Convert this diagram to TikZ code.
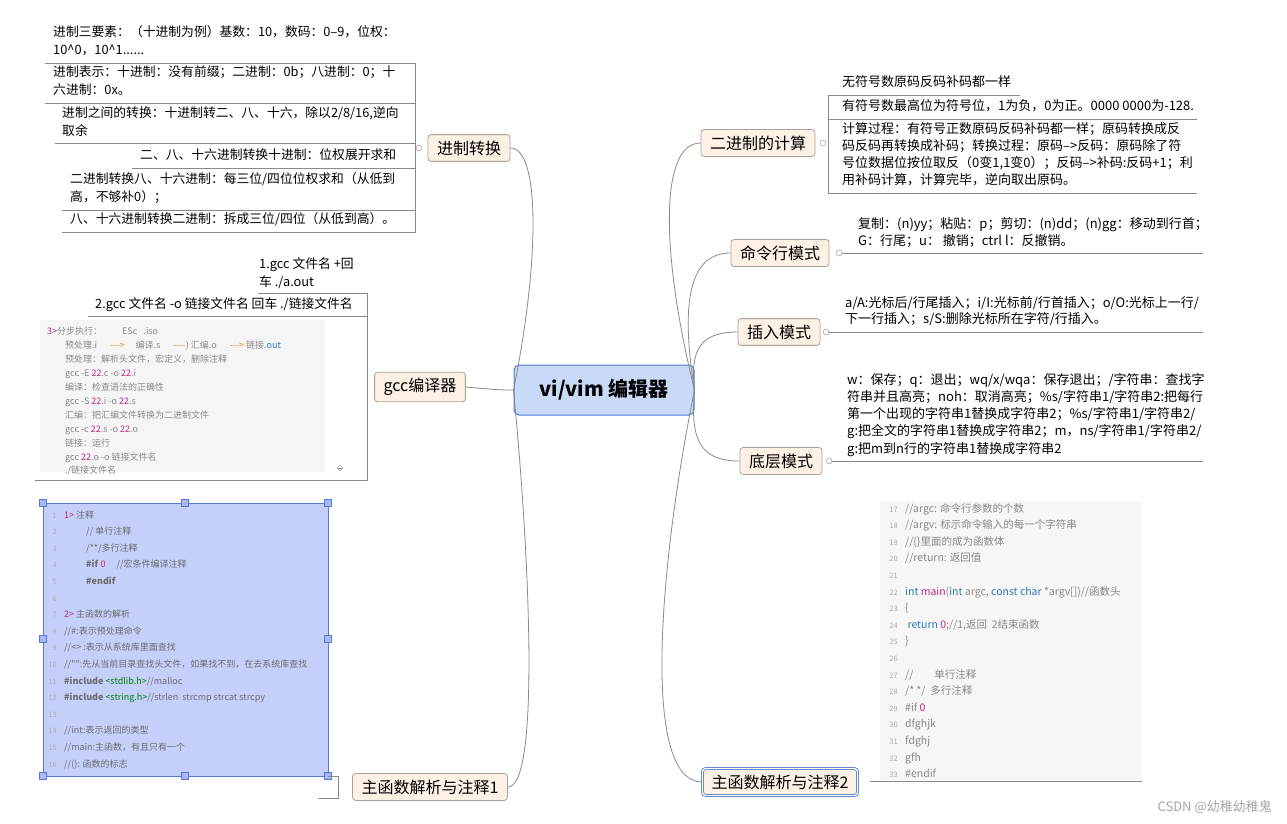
\documentclass[tikz,border=0pt]{standalone}
\usepackage{fontspec}
\setmainfont{Noto Sans CJK SC}
\newfontfamily\codefont{Noto Sans CJK SC}
\definecolor{br}{HTML}{FDF1E6}
\definecolor{brd}{HTML}{A8A29C}
\definecolor{cfill}{HTML}{C9DAF8}
\definecolor{cbd}{HTML}{4F7BD0}
\definecolor{ln}{HTML}{8A8A8A}
\definecolor{cg}{HTML}{888888}
\definecolor{kw}{HTML}{C0267A}
\definecolor{bl}{HTML}{2A7AB8}
\begin{document}
\begin{tikzpicture}[x=1pt,y=-1pt,
  branch/.style={draw=brd,fill=br,rounded corners=3pt,font=\fontsize{16}{18}\selectfont,inner xsep=9pt,inner ysep=6pt,line width=0.8pt},
  leaf/.style={anchor=north west,align=left,inner sep=0pt,font=\fontsize{12.8}{18}\selectfont},
  conn/.style={draw=ln,line width=0.8pt},
  rule/.style={draw=ln,line width=0.7pt},
  code/.style={anchor=base west,inner sep=0pt,text=cg,font=\codefont\fontsize{9}{10}\selectfont},
  num/.style={anchor=base east,inner sep=0pt,text=cg!70,font=\fontsize{7.5}{9}\selectfont},
  knob/.style={draw=ln,fill=white,circle,inner sep=0pt,minimum size=6pt}]
\useasboundingbox (0,0) rectangle (1287,824);
\fill[white] (0,0) rectangle (1287,824);

% center
\node[draw=cbd,fill=cfill,rounded corners=5pt,minimum width=180pt,minimum height=50pt,line width=1pt,font=\fontsize{20}{22}\selectfont\bfseries] (c) at (604,390) {vi/vim 编辑器};

% branches
\node[branch] (b1) at (469,148) {进制转换};
\node[branch] (b2) at (420,387) {gcc编译器};
\node[branch] (b3) at (430,787) {主函数解析与注释1};
\node[branch] (b4) at (758,143) {二进制的计算};
\node[branch] (b5) at (780,253) {命令行模式};
\node[branch] (b6) at (779,332) {插入模式};
\node[branch] (b7) at (781,461) {底层模式};
\node[branch,draw=cbd,double=white,double distance=1.2pt] (b8) at (780,782) {主函数解析与注释2};

% connectors
\draw[conn] (c.west) .. controls (540,260) and (540,148) .. (b1.east);
\draw[conn] (c.west) .. controls (500,390) .. (b2.east);
\draw[conn] (c.west) .. controls (530,560) and (540,787) .. (b3.east);
\draw[conn] (c.east) .. controls (660,250) and (660,143) .. (b4.west);
\draw[conn] (c.east) .. controls (680,300) and (690,253) .. (b5.west);
\draw[conn] (c.east) .. controls (690,350) and (700,332) .. (b6.west);
\draw[conn] (c.east) .. controls (690,440) and (700,461) .. (b7.west);
\draw[conn] (c.east) .. controls (660,560) and (640,782) .. (b8.west);

% ---- 进制转换 leaves
\draw[rule] (45,63) -- (415,63) -- (415,232) -- (62,232);
\draw[rule] (45,103) -- (415,103);
\draw[rule] (55,143) -- (415,143);
\draw[rule] (132,168) -- (415,168);
\draw[rule] (62,210) -- (415,210);
\node[knob] at (419,148) {};
\node[leaf] (t1) at (53,25) {进制三要素：（十进制为例）基数：10，数码：0--9，位权：\\10\^{}0，10\^{}1......};
\node[leaf] (t2) at (53,65) {进制表示：十进制：没有前缀；二进制：0b；八进制：0；十\\六进制：0x。};
\node[leaf] (t3) at (62,106) {进制之间的转换：十进制转二、八、十六，除以2/8/16,逆向\\取余};
\node[leaf] (t4) at (140,148) {二、八、十六进制转换十进制：位权展开求和};
\node[leaf] (t5) at (70,172) {二进制转换八、十六进制：每三位/四位位权求和（从低到\\高，不够补0）；};
\node[leaf] (t6) at (70,212) {八、十六进制转换二进制：拆成三位/四位（从低到高）。};

% ---- gcc leaves
\draw[rule] (258,293) -- (367,293);
\draw[rule] (88,316) -- (367,316);
\draw[rule] (367,293) -- (367,480) -- (35,480);
\node[leaf] (g1) at (259,257) {1.gcc 文件名 +回\\车 ./a.out};
\node[leaf] (g2) at (95,297) {2.gcc 文件名 -o 链接文件名 回车 ./链接文件名};
\fill[gray!8] (40,320) rectangle (325,472);
\node[knob,minimum size=5pt] at (340,468) {};
\draw[ln] (338,468) -- (342,468);
\node[code] at (47,334) {\textcolor{kw}{3>}分步执行：\qquad\ ESc\ \ \ .iso};
\node[code] at (65,348) {预处理.i\quad\ \ \textcolor{orange}{--->}\quad\ 编译.s\quad\ \ \textcolor{orange}{----}) 汇编.o\quad\ \ \textcolor{orange}{--->} 链接.\textcolor{bl}{out}};
\node[code] at (65,362) {预处理：解析头文件，宏定义，删除注释};
\node[code] at (65,376) {gcc -E \textcolor{kw}{22}.c -o \textcolor{kw}{22}.i};
\node[code] at (65,390) {编译：检查语法的正确性};
\node[code] at (65,404) {gcc -S \textcolor{kw}{22}.i -o \textcolor{kw}{22}.s};
\node[code] at (65,418) {汇编：把汇编文件转换为二进制文件};
\node[code] at (65,432) {gcc -c \textcolor{kw}{22}.s -o \textcolor{kw}{22}.o};
\node[code] at (65,446) {链接：运行};
\node[code] at (65,460) {gcc \textcolor{kw}{22}.o -o 链接文件名};
\node[code] at (65,473) {./链接文件名};

% ---- code block 1 (selected)
\draw[cbd,fill=cfill!90!blue!80,line width=0.8pt] (43,503) rectangle (328,776);
\foreach \p in {(43,503),(185,503),(328,503),(43,639),(328,639),(43,776),(185,776),(328,776)}
  \draw[cbd,fill=cfill!60!blue!60] \p +(-3.5,-3.5) rectangle +(3.5,3.5);
\draw[ln,line width=0.7pt] (328,776) -- (338,776) -- (338,798) -- (318,798);
\foreach \i/\t [count=\k] in {
 1/{\textcolor{kw}{1>} 注释},
 2/{\qquad\ \ // 单行注释},
 3/{\qquad\ \ /**/多行注释},
 4/{\qquad\ \ \textbf{\#if} \textcolor{kw}{0}\quad\ //宏条件编译注释},
 5/{\qquad\ \ \textbf{\#endif}},
 6/{},
 7/{\textcolor{kw}{2>} 主函数的解析},
 8/{//\#:表示预处理命令},
 9/{//<> :表示从系统库里面查找},
 10/{//"":先从当前目录查找头文件，如果找不到，在去系统库查找},
 11/{\textbf{\#include} \textcolor{green!50!black}{<stdlib.h>}//malloc},
 12/{\textbf{\#include} \textcolor{green!50!black}{<string.h>}//strlen\ \ strcmp strcat strcpy},
 13/{},
 14/{//int:表示返回的类型},
 15/{//main:主函数，有且只有一个},
 16/{//(): 函数的标志}}
{
  \node[num] at (57,{518+16.6*(\k-1)}) {\i};
  \node[code,text=gray!85!black] at (64,{518+16.6*(\k-1)}) {\t};
}

% ---- code block 2
\fill[gray!7] (880,501) rectangle (1142,780);
\draw[rule] (870,781) -- (1142,781);
\foreach \i/\t [count=\k] in {
 17/{//argc: 命令行参数的个数},
 18/{//argv: 标示命令输入的每一个字符串},
 19/{//\{\}里面的成为函数体},
 20/{//return: 返回值},
 21/{},
 22/{\textcolor{bl}{int} \textcolor{kw}{main}(\textcolor{bl}{int} argc, \textcolor{bl}{const} \textcolor{bl}{char} *argv[])//函数头},
 23/{\{},
 24/{\ \textcolor{bl}{return} \textcolor{kw}{0};//1,返回\ \ 2结束函数},
 25/{\}},
 26/{},
 27/{//\qquad 单行注释},
 28/{/* */\ \ 多行注释},
 29/{\#if \textcolor{kw}{0}},
 30/{dfghjk},
 31/{fdghj},
 32/{gfh},
 33/{\#endif}}
{
  \node[num] at (898,{512+16.6*(\k-1)}) {\i};
  \node[code,font=\codefont\fontsize{10.5}{12}\selectfont] at (905,{512+16.6*(\k-1)}) {\t};
}

% ---- 二进制的计算 leaves
\draw[rule] (828,95) -- (1020,95);
\draw[rule] (828,95) -- (828,193) -- (1197,193);
\draw[rule] (828,119) -- (1197,119);
\node[knob] at (823,143) {};
\node[leaf,font=\fontsize{13}{17}\selectfont] at (842,75) {无符号数原码反码补码都一样};
\node[leaf,font=\fontsize{13}{17}\selectfont] at (842,99) {有符号数最高位为符号位，1为负，0为正。0000 0000为-128.};
\node[leaf,font=\fontsize{13}{17}\selectfont] at (842,122) {计算过程：有符号正数原码反码补码都一样；原码转换成反\\码反码再转换成补码；转换过程：原码-->反码：原码除了符\\号位数据位按位取反（0变1,1变0）；反码-->补码:反码+1；利\\用补码计算，计算完毕，逆向取出原码。};

% ---- 命令行模式
\draw[rule] (840,253) -- (1203,253);
\node[knob] at (839,253) {};
\node[leaf,font=\fontsize{13}{17}\selectfont] at (858,217) {复制：(n)yy；粘贴：p；剪切：(n)dd；(n)gg：移动到行首；\\G：行尾；u： 撤销；ctrl l：反撤销。};

% ---- 插入模式
\draw[rule] (825,332) -- (1203,332);
\node[knob] at (826,332) {};
\node[leaf,font=\fontsize{13}{16.5}\selectfont] at (845,296) {a/A:光标后/行尾插入；i/I:光标前/行首插入；o/O:光标上一行/\\下一行插入；s/S:删除光标所在字符/行插入。};

% ---- 底层模式
\draw[rule] (830,461) -- (1203,461);
\node[knob] at (829,461) {};
\node[leaf,font=\fontsize{13}{17.2}\selectfont] at (847,373) {w：保存；q：退出；wq/x/wqa：保存退出；/字符串：查找字\\符串并且高亮；noh：取消高亮；\%s/字符串1/字符串2:把每行\\第一个出现的字符串1替换成字符串2；\%s/字符串1/字符串2/\\g:把全文的字符串1替换成字符串2；m，ns/字符串1/字符串2/\\g:把m到n行的字符串1替换成字符串2};

% watermark
\node[anchor=base east,inner sep=0pt,text=gray!70,font=\fontsize{13}{15}\selectfont] at (1272,811) {CSDN @幼稚幼稚鬼};
\end{tikzpicture}
\end{document}
